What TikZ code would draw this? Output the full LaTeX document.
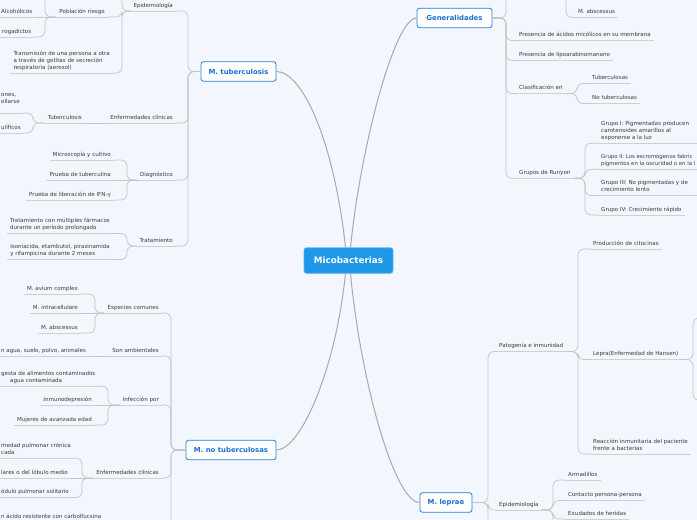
\documentclass[tikz,border=0pt]{standalone}
\usepackage{fontspec}
\setmainfont{DejaVu Sans}
\usetikzlibrary{calc}
\definecolor{bgc}{HTML}{F3F6FD}
\definecolor{txtc}{HTML}{3A3A3A}
\definecolor{ulc}{HTML}{CFCFCF}
\definecolor{brc}{HTML}{C4C4C4}
\definecolor{mainc}{HTML}{A9A9A9}
\definecolor{boxc}{HTML}{1F7FE0}
\definecolor{boxtext}{HTML}{1A6FD0}
\definecolor{ctrfill}{HTML}{1D97E8}
\definecolor{ctrdraw}{HTML}{5DB5EE}
\newcommand{\bcon}[3]{\draw[br] (#1) -| (#2 |- #3) -- (#3);}
\begin{document}
\begin{tikzpicture}[x=1pt,y=-1pt,
  ul/.style={draw=ulc, line width=0.6pt},
  br/.style={draw=brc, line width=0.7pt, rounded corners=6pt},
  mc/.style={draw=mainc, line width=1pt},
  tx/.style={font=\fontsize{5.55}{7}\selectfont, text=txtc, inner xsep=3pt, inner ysep=2.4pt, text depth=1.4pt, align=left,
    append after command={(\tikzlastnode.south west) edge[ul] (\tikzlastnode.south east)}},
  L/.style={tx, anchor=south east},
  R/.style={tx, anchor=south west},
  mbox/.style={draw=boxc, fill=white, rounded corners=2.5pt, line width=0.8pt, text=boxtext,
    font=\bfseries\fontsize{6.9}{8}\selectfont, minimum height=19.5pt, inner sep=0pt},
  ctrbox/.style={draw=ctrdraw, fill=ctrfill, rounded corners=2.5pt, line width=0.6pt, text=white,
    font=\bfseries\fontsize{8.8}{10}\selectfont, minimum width=89pt, minimum height=25.5pt, inner sep=0pt}]
\useasboundingbox (0,0) rectangle (697,520);
\fill[bgc] (0,0) rectangle (697,520);

% bracket (trunk) positions
\coordinate (btb) at (188,0);
\coordinate (bepi1) at (122,0);
\coordinate (bpob) at (45,0);
\coordinate (btbc) at (33,0);
\coordinate (bdia) at (127,0);
\coordinate (btra) at (127,0);
\coordinate (bntb) at (171,0);
\coordinate (besp) at (95,0);
\coordinate (binf) at (108,0);
\coordinate (benf) at (82,0);
\coordinate (bgen) at (506,0);
\coordinate (bgen0) at (566,0);
\coordinate (bcla) at (577,0);
\coordinate (brun) at (585,0);
\coordinate (blep) at (488,0);
\coordinate (bpat) at (578,0);
\coordinate (bhan) at (693,0);
\coordinate (bepi2) at (553,0);
\coordinate (edgeR) at (700,0);

% main nodes
\node[ctrbox] (ctr) at (348.5,260.5) {Micobacterias};
\node[mbox, minimum width=75pt] (tb) at (238.5,71.5) {M. tuberculosis};
\node[mbox, minimum width=90pt] (ntb) at (231,450) {M. no tuberculosas};
\node[mbox, minimum width=75pt] (gen) at (454.5,18) {Generalidades};
\node[mbox, minimum width=52pt] (lep) at (446,502.5) {M. leprae};

% M. tuberculosis branch
\node[L] (epi1) at (176,11) {Epidemiología};
\node[L] (enf1) at (176,123) {Enfermedades clínicas};
\node[L] (dia1) at (176,180) {Diagnóstico};
\node[L] (tra1) at (176,246) {Tratamiento};
\coordinate (epi0) at (110,-8);
\node[L] (pob) at (108,17) {Población riesgo};
\node[L] (trans) at (113,73) {Transmisión de una persona a otra\\a través de gotitas de secreción\\respiratoria (aerosol)};
\coordinate (pob0) at (32,-6);
\node[R] (alc) at (-2,17) {Alcohólicos};
\node[R] (dro) at (-1,37) {rogadictos};
\node[R, inner ysep=8.1pt] (tbA) at (-2,113) {ones,\\ollarse};
\node[R] (tbB) at (-2,133) {ulíficos};
\node[L] (tbc) at (85,123) {Tuberculosis};
\node[L] (mic) at (114,160) {Microscopía y cultivo};
\node[L] (pru) at (114,180) {Prueba de tuberculina};
\node[L] (ifn) at (114,200) {Prueba de liberación de IFN-γ};
\node[L] (trA) at (113,233.5) {Tratamiento con múltiples fármacos\\durante un período prolongado};
\node[L] (trB) at (113,259.5) {Isoniacida, etambutol, pirazinamida\\y rifampicina durante 2 meses};

% M. no tuberculosas branch
\node[L] (esp) at (162,313) {Especies comunes};
\node[L] (amb) at (162,356) {Son ambientales};
\node[L] (inf) at (162,405) {Infección por};
\node[L] (enf2) at (162,478) {Enfermedades clínicas};
\coordinate (ntb0) at (162,540);
\node[L] (avi) at (81,294) {M. avium complex};
\node[L] (intr) at (81,313) {M. intracellulare};
\node[L] (abs1) at (81,333) {M. abscessus};
\node[R] (agua) at (-2,356) {n agua, suelo, polvo, animales};
\node[R] (ing) at (-2,386) {gesta de alimentos contaminados\\\hspace*{9pt}agua contaminada};
\node[L] (inm) at (95,405) {Inmunodepresión};
\node[L] (muj) at (95,425) {Mujeres de avanzada edad};
\node[R] (enA) at (-2,458) {medad pulmonar crónica\\cada};
\node[R] (enB) at (-2,478) {lares o del lóbulo medio};
\node[R] (enC) at (-2,497.5) {ódulo pulmonar solitario};
\node[R] (tin) at (-2,522.5) {n ácido resistente con carbolfucsina};

% Generalidades branch
\coordinate (gen0) at (516,-8);
\node[R] (mic2) at (516,40.5) {Presencia de ácidos micólicos en su membrana};
\node[R] (lip) at (516,60.5) {Presencia de lipoarabinomanano};
\node[R] (cla) at (516,93.5) {Clasificación en};
\node[R] (run) at (516,178.3) {Grupos de Runyon};
\coordinate (gen0e) at (556,-8);
\node[R] (abs2) at (575,17.5) {M. abscessus};
\node[R] (tub) at (589,83.5) {Tuberculosas};
\node[R] (notub) at (589,103.5) {No tuberculosas};
\node[R] (g1) at (598,143.3) {Grupo I: Pigmentadas producen\\carotenoides amarillos al\\exponerse a la luz};
\node[R, font=\fontsize{5.35}{6.7}\selectfont] (g2) at (598,169.3) {Grupo II: Los escromógenos fabric\\pigmentos en la oscuridad o en la l};
\node[R] (g3) at (598,195.5) {Grupo III: No pigmentadas y de\\crecimiento lento};
\node[R] (g4) at (598,215) {Grupo IV: Crecimiento rápido};

% M. leprae branch
\node[R] (pat) at (496,351.5) {Patogenia e inmunidad};
\node[R] (epi2) at (496,510) {Epidemiología};
\coordinate (lep0) at (496,540);
\node[R] (cit) at (590,249) {Producción de citocinas};
\node[R] (han) at (590,359.5) {Lepra(Enfermedad de Hansen)};
\node[R] (rea) at (590,454) {Reacción inmunitaria del paciente\\frente a bacterias};
\coordinate (hanA) at (705,318);
\coordinate (hanB) at (705,400);
\node[R] (arm) at (565,480) {Armadillos};
\node[R] (con) at (565,500.5) {Contacto persona-persona};
\node[R] (exu) at (565,519) {Exudados de heridas};
\coordinate (epi2c) at (565,540);

% extended underlines of the wide group nodes
\draw[ul] (g1.south east) -- (g1.south east -| edgeR);
\draw[ul] (g3.south east) -- (g3.south east -| edgeR);

% main connectors
\draw[mc] ([xshift=-3pt]ctr.north) .. controls +(-12,-110) and +(25,0) .. (tb.east);
\draw[mc] ([xshift=2pt]ctr.north) .. controls +(10,-100) and +(-22,0) .. (gen.west);
\draw[mc] ([xshift=-3pt]ctr.south) .. controls +(-10,97) and +(24,0) .. (ntb.east);
\draw[mc] ([xshift=2pt]ctr.south) .. controls +(10,107) and +(-25,0) .. (lep.west);

% tb connectors
\bcon{tb.west}{btb}{epi1.south east}
\bcon{tb.west}{btb}{enf1.south east}
\bcon{tb.west}{btb}{dia1.south east}
\bcon{tb.west}{btb}{tra1.south east}
\bcon{epi1.south west}{bepi1}{epi0}
\bcon{epi1.south west}{bepi1}{pob.south east}
\bcon{epi1.south west}{bepi1}{trans.south east}
\bcon{pob.south west}{bpob}{pob0}
\draw[br] (pob.south west) -- (alc.south east);
\bcon{pob.south west}{bpob}{dro.south east}
\draw[br] (enf1.south west) -- (tbc.south east);
\bcon{tbc.south west}{btbc}{tbA.south east}
\bcon{tbc.south west}{btbc}{tbB.south east}
\bcon{dia1.south west}{bdia}{mic.south east}
\draw[br] (dia1.south west) -- (pru.south east);
\bcon{dia1.south west}{bdia}{ifn.south east}
\bcon{tra1.south west}{btra}{trA.south east}
\bcon{tra1.south west}{btra}{trB.south east}

% ntb connectors
\bcon{ntb.west}{bntb}{esp.south east}
\bcon{ntb.west}{bntb}{amb.south east}
\bcon{ntb.west}{bntb}{inf.south east}
\bcon{ntb.west}{bntb}{enf2.south east}
\bcon{ntb.west}{bntb}{ntb0}
\bcon{esp.south west}{besp}{avi.south east}
\draw[br] (esp.south west) -- (intr.south east);
\bcon{esp.south west}{besp}{abs1.south east}
\draw[br] (amb.south west) -- (agua.south east);
\bcon{inf.south west}{binf}{ing.south east}
\draw[br] (inf.south west) -- (inm.south east);
\bcon{inf.south west}{binf}{muj.south east}
\bcon{enf2.south west}{benf}{enA.south east}
\draw[br] (enf2.south west) -- (enB.south east);
\bcon{enf2.south west}{benf}{enC.south east}

% gen connectors
\bcon{gen.east}{bgen}{gen0}
\bcon{gen.east}{bgen}{mic2.south west}
\bcon{gen.east}{bgen}{lip.south west}
\bcon{gen.east}{bgen}{cla.south west}
\bcon{gen.east}{bgen}{run.south west}
\bcon{gen0e}{bgen0}{abs2.south west}
\bcon{cla.south east}{bcla}{tub.south west}
\bcon{cla.south east}{bcla}{notub.south west}
\bcon{run.south east}{brun}{g1.south west}
\bcon{run.south east}{brun}{g2.south west}
\bcon{run.south east}{brun}{g3.south west}
\bcon{run.south east}{brun}{g4.south west}

% lep connectors
\bcon{lep.east}{blep}{pat.south west}
\bcon{lep.east}{blep}{epi2.south west}
\bcon{lep.east}{blep}{lep0}
\bcon{pat.south east}{bpat}{cit.south west}
\bcon{pat.south east}{bpat}{han.south west}
\bcon{pat.south east}{bpat}{rea.south west}
\bcon{han.south east}{bhan}{hanA}
\bcon{han.south east}{bhan}{hanB}
\bcon{epi2.south east}{bepi2}{arm.south west}
\bcon{epi2.south east}{bepi2}{con.south west}
\bcon{epi2.south east}{bepi2}{exu.south west}
\bcon{epi2.south east}{bepi2}{epi2c}
\end{tikzpicture}
\end{document}
